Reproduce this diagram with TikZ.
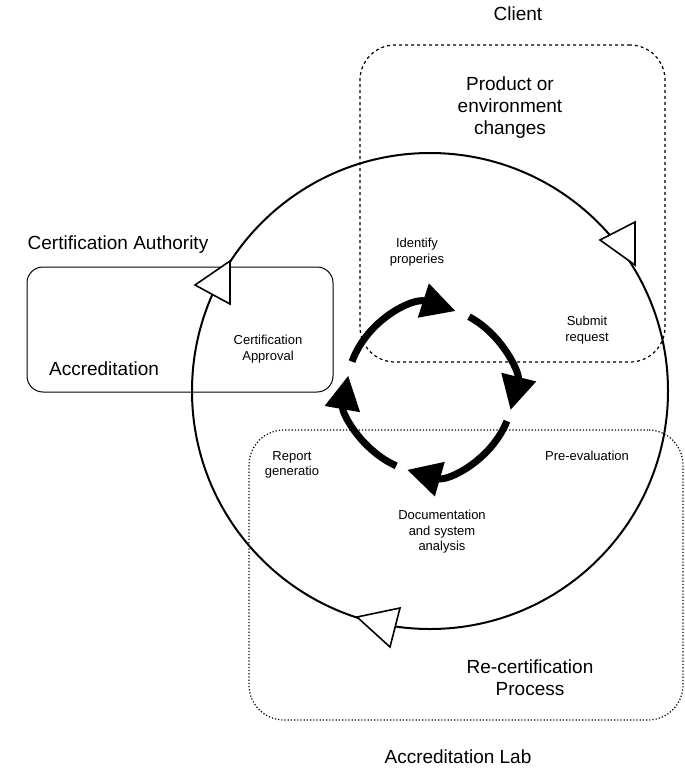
\documentclass[tikz,border=0pt]{standalone}
\usepackage{fontspec}
\setmainfont{Liberation Sans}
\usetikzlibrary{arrows.meta}
\begin{document}
\begin{tikzpicture}[x=1pt,y=-1pt,
  big/.style={font=\fontsize{19}{22}\selectfont,align=center},
  small/.style={font=\fontsize{13}{15.5}\selectfont,align=center},
  ring/.style={line width=7pt,-{Triangle[length=34pt,width=34pt]}},
  tri/.style={draw,line width=1.6pt,fill=white}]
\useasboundingbox (0,0) rectangle (685,772);
\node[draw,line width=1pt,rounded corners=16pt,minimum width=306pt,minimum height=125pt] (auth) at (180,329.5) {};
\node[draw,line width=1.2pt,dashed,rounded corners=35pt,minimum width=305pt,minimum height=317pt] (client) at (512.5,203.5) {};
\node[draw,line width=1.2pt,dotted,rounded corners=35pt,minimum width=434pt,minimum height=290pt] (lab) at (466,575) {};
\node[draw,line width=2pt,circle,minimum size=476pt] (big) at (430,391) {};
\coordinate (c) at (430,390);
\draw[tri] (195,285) -- (230,261) -- (230,304) -- cycle;
\draw[tri] (600,240) -- (635,222) -- (635,265) -- cycle;
\draw[tri] (357,617) -- (400,608) -- (390,647) -- cycle;
\draw[ring] ([shift={(-160:83)}]c) arc[start angle=-160,end angle=-72,radius=83];
\draw[ring] ([shift={(-62:83)}]c) arc[start angle=-62,end angle=14,radius=83];
\draw[ring] ([shift={(22:83)}]c) arc[start angle=22,end angle=106,radius=83];
\draw[ring] ([shift={(114:83)}]c) arc[start angle=114,end angle=190,radius=83];
\node[big] (t1) at (518,14) {Client};
\node[big] (t2) at (510,108) {Product or\\environment\\changes};
\node[big] (t3) at (118,245) {Certification Authority};
\node[big] (t4) at (104,369) {Accreditation};
\node[small] (t5) at (268,349) {Certification\\Approval};
\node[small] (t6) at (417,252) {Identify\\properies};
\node[small] (t7) at (587,330) {Submit\\request};
\node[small] (t8) at (587,456) {Pre-evaluation};
\node[small] (t9) at (292,465) {Report\\generatio};
\node[small] (t10) at (442,532) {Documentation\\and system\\analysis};
\node[big] (t11) at (530,678) {Re-certification\\Process};
\node[big] (t12) at (458,757) {Accreditation Lab};
\end{tikzpicture}
\end{document}
